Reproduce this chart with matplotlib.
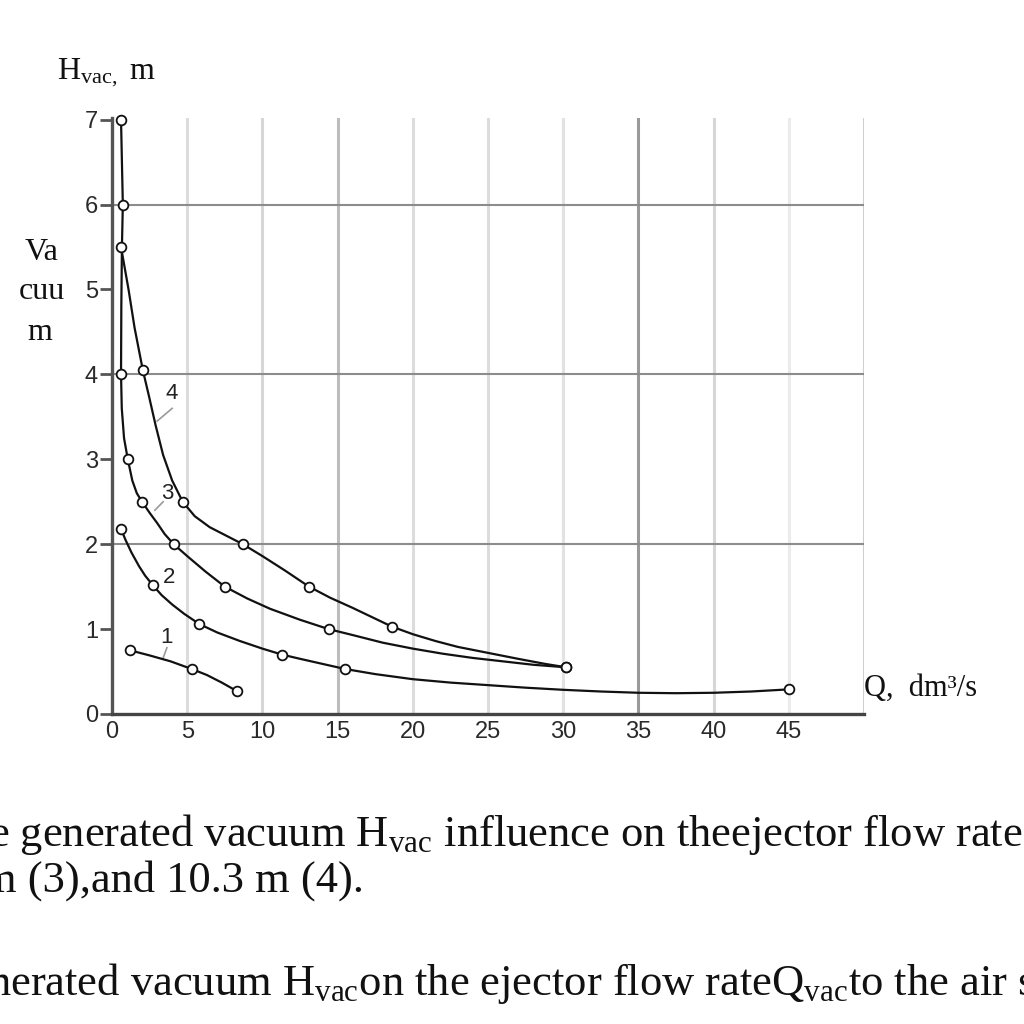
import matplotlib
matplotlib.use("Agg")
import matplotlib.pyplot as plt

plt.rcParams['font.family'] = ['Liberation Serif', 'DejaVu Serif']
plt.rcParams['mathtext.fontset'] = 'custom'
plt.rcParams['mathtext.rm'] = 'Liberation Serif'
plt.rcParams['mathtext.it'] = 'Liberation Serif:italic'

# ---- data ----
# measured points (markers)
q1 = [1.2, 5.3, 8.3]
h1 = [0.75, 0.53, 0.27]
q2 = [0.6, 2.7, 5.8, 11.3, 15.5, 45.0]
h2 = [2.18, 1.52, 1.06, 0.70, 0.53, 0.29]
q3 = [0.6, 0.72, 0.6, 1.05, 2.0, 4.1, 7.5, 14.4, 30.2]
h3 = [7.0, 6.0, 4.0, 3.0, 2.5, 2.0, 1.5, 1.0, 0.55]
q4 = [0.6, 2.05, 4.7, 8.7, 13.1, 18.6, 30.2]
h4 = [5.5, 4.05, 2.5, 2.0, 1.5, 1.03, 0.55]

# traced curve paths
q1_line = [1.2, 2.5, 3.9, 5.3, 6.3, 7.3, 8.3]
h1_line = [0.75, 0.69, 0.62, 0.53, 0.46, 0.37, 0.27]
q2_line = [0.6, 0.9, 1.3, 1.8, 2.2, 2.7, 3.3, 4.0, 4.8, 5.8, 7.0, 8.5, 10.0, 11.3, 12.5, 14.0, 15.5,
           17.5, 20, 22.5, 25, 27.5, 30, 32.5, 35, 37.5, 40, 42.5, 45]
h2_line = [2.18, 2.05, 1.9, 1.74, 1.63, 1.52, 1.40, 1.29, 1.18, 1.06, 0.96, 0.86, 0.77, 0.70, 0.65, 0.59, 0.53,
           0.47, 0.41, 0.37, 0.34, 0.31, 0.285, 0.265, 0.25, 0.245, 0.25, 0.265, 0.29]
q3_line = [0.6, 0.72, 0.66, 0.62, 0.6, 0.65, 0.8, 1.05, 1.35, 1.65, 2.0, 2.5, 3.0, 3.5, 4.1, 5.0, 6.2, 7.5,
           9.0, 10.5, 12.5, 14.4, 16, 18, 20, 22, 24, 26, 28, 30.2]
h3_line = [7.0, 6.0, 5.5, 4.8, 4.0, 3.6, 3.25, 3.0, 2.75, 2.6, 2.5, 2.37, 2.25, 2.12, 2.0, 1.86, 1.68, 1.5,
           1.36, 1.24, 1.11, 1.0, 0.93, 0.84, 0.77, 0.71, 0.66, 0.62, 0.58, 0.55]
q4_line = [0.6, 0.75, 1.1, 1.5, 2.05, 2.45, 2.9, 3.4, 4.0, 4.7, 5.5, 6.5, 7.6, 8.7, 10.0, 11.5, 13.1,
           14.5, 16.0, 17.3, 18.6, 20.0, 21.5, 23.0, 25.0, 27.0, 28.8, 30.2]
h4_line = [5.5, 5.35, 5.0, 4.55, 4.05, 3.75, 3.4, 3.05, 2.75, 2.5, 2.33, 2.2, 2.1, 2.0, 1.86, 1.69, 1.5,
           1.37, 1.25, 1.14, 1.03, 0.94, 0.86, 0.79, 0.72, 0.65, 0.59, 0.55]

x_ticks = [0, 5, 10, 15, 20, 25, 30, 35, 40, 45]
y_ticks = [0, 1, 2, 3, 4, 5, 6, 7]
v_grid = [5, 10, 15, 20, 25, 30, 35, 40, 45, 50]
v_grid_col = ['#dcdcdc', '#d6d6d6', '#bdbdbd', '#dcdcdc', '#dcdcdc', '#e2e2e2',
              '#9a9a9a', '#d6d6d6', '#ebebeb', '#cfcfcf']
h_grid = [2, 4, 6]

curve_labels = ['1', '2', '3', '4']
label_pos = [(3.65, 0.90), (3.8, 1.61), (3.7, 2.60), (3.98, 3.78)]
leaders = [((3.65, 0.78), (3.4, 0.66)), None, ((3.4, 2.50), (2.85, 2.40)), ((4.0, 3.60), (3.0, 3.45))]

fig = plt.figure(figsize=(10.24, 10.24), dpi=100)
W = H = 1024.0
ax = fig.add_axes([112 / W, 1 - 714 / H, 752 / W, (714 - 118) / H])
ax.set_xlim(0, 50)
ax.set_ylim(0, 7.02)

for xv, c in zip(v_grid, v_grid_col):
    ax.axvline(xv, color=c, lw=2.2, zorder=1)
for yv in h_grid:
    ax.axhline(yv, color='#8c8c8c', lw=1.5, zorder=1.2)

for ql, hl in [(q1_line, h1_line), (q2_line, h2_line), (q3_line, h3_line), (q4_line, h4_line)]:
    ax.plot(ql, hl, color='#111111', lw=1.6, zorder=3, clip_on=False, solid_joinstyle='round')
for qm, hm in [(q1, h1), (q2, h2), (q3, h3), (q4, h4)]:
    ax.plot(qm, hm, ls='none', marker='o', ms=7, mfc='white', mec='#111111',
            mew=1.3, zorder=4, clip_on=False)

for lab, (lx, ly), ld in zip(curve_labels, label_pos, leaders):
    ax.text(lx, ly, lab, fontsize=16, family='Liberation Sans', color='#222222',
            ha='center', va='center', zorder=5)
    if ld is not None:
        ax.plot([ld[0][0], ld[1][0]], [ld[0][1], ld[1][1]], color='#9a9a9a', lw=1.2, zorder=2)

for s in ['top', 'right']:
    ax.spines[s].set_visible(False)
ax.spines['left'].set_color('#555555')
ax.spines['left'].set_linewidth(2.4)
ax.spines['bottom'].set_color('#444444')
ax.spines['bottom'].set_linewidth(2.4)

ax.set_xticks(x_ticks)
ax.set_xticklabels([str(v) for v in x_ticks], fontsize=17, family='Liberation Sans', color='#2a2a2a')
ax.set_yticks(y_ticks)
ax.set_yticklabels([str(v) for v in y_ticks], fontsize=17, family='Liberation Sans', color='#2a2a2a')
ax.tick_params(axis='x', length=0, pad=5)
ax.tick_params(axis='y', length=9, width=2, color='#555555', pad=1)

def fx(px):
    return px / W

def fy(py):
    return 1 - py / H

fig.text(fx(57), fy(79), r'H$_{\mathrm{vac,}}$ m', fontsize=23, va='baseline', ha='left', color='#111111')
fig.text(fx(42), fy(260), 'Va', fontsize=23, va='baseline', ha='center', color='#111111')
fig.text(fx(42), fy(299), 'cuu', fontsize=23, va='baseline', ha='center', color='#111111')
fig.text(fx(40), fy(340), 'm', fontsize=23, va='baseline', ha='center', color='#111111')
fig.text(fx(864), fy(696), 'Q,  dm³/s', fontsize=22, va='baseline', ha='left', color='#111111')

cap = 32
fig.text(fx(-11), fy(846), r'e generated vacuum H$_{\mathrm{vac}}$ influence on theejector flow rate',
         fontsize=cap, va='baseline', ha='left', color='#111111')
fig.text(fx(-18), fy(892), 'm (3),and 10.3 m (4).', fontsize=cap, va='baseline', ha='left', color='#111111')
fig.text(fx(-12), fy(995), r'nerated vacuum H$_{\mathrm{vac}}$on the ejector flow rateQ$_{\mathrm{vac}}$to the air s',
         fontsize=cap, va='baseline', ha='left', color='#111111')

fig.savefig('out.png', dpi=100)
